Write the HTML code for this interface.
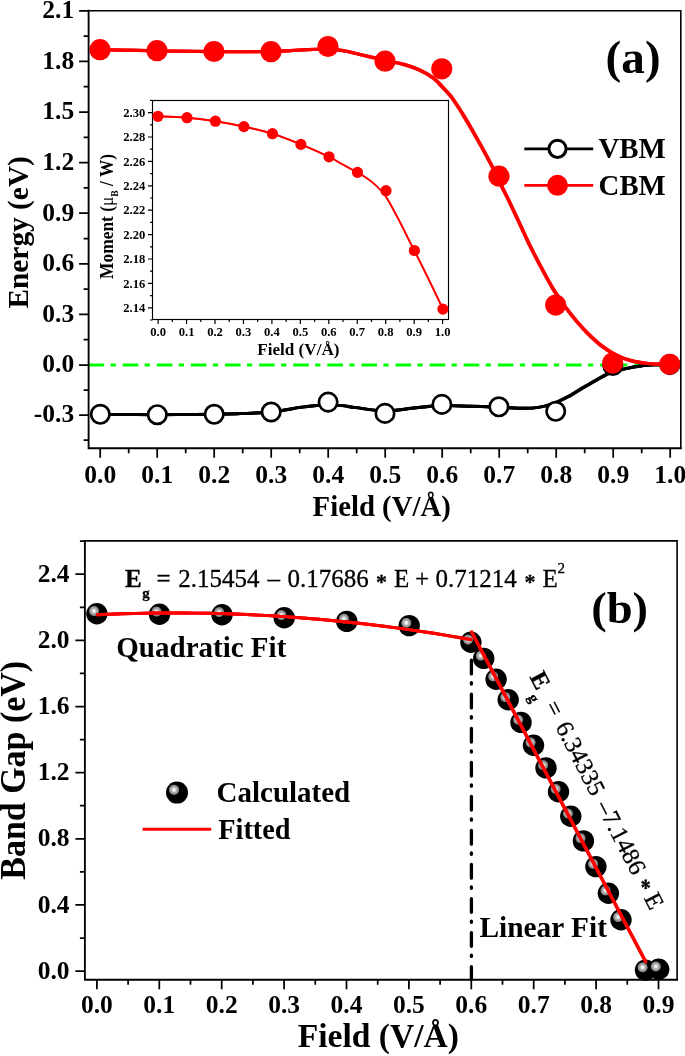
<!DOCTYPE html>
<html lang="en"><head><meta charset="utf-8"><title>Band edges and band gap versus electric field</title>
<style>
html,body{margin:0;padding:0;background:#fff;}
body{width:685px;height:1056px;overflow:hidden;}
svg{display:block;}
text{font-family:"Liberation Serif", "DejaVu Serif", serif;fill:#000;}
.b{font-weight:bold;}
.t24{font-size:25.5px;font-weight:bold;}
.t12{font-size:12.6px;font-weight:bold;}
.ax{stroke:#000;fill:none;}
.eq{stroke:#000;stroke-width:0.3px;}
</style></head><body>
<svg width="685" height="1056" viewBox="0 0 685 1056">
<defs>
<radialGradient id="sph" cx="0.365" cy="0.372" r="0.25" fx="0.365" fy="0.372"><stop offset="0" stop-color="#fff"/><stop offset="0.2" stop-color="#f0f0f0"/><stop offset="0.48" stop-color="#b4b4b4"/><stop offset="0.84" stop-color="#828282"/><stop offset="0.95" stop-color="#303030"/><stop offset="1" stop-color="#000"/></radialGradient>
</defs>
<rect x="0" y="0" width="685" height="1056" fill="#fff"/>
<g id="panel-a">
<line x1="88.6" y1="365.0" x2="679.8" y2="365.0" stroke="#00ff00" stroke-width="3.2" stroke-dasharray="15.6 6.4 5.2 6.9"/>
<g id="inset">
<rect x="152.5" y="100.5" width="296.0" height="219.0" fill="#fff" stroke="#000" stroke-width="1.15"/>
<path class="ax" stroke-width="1.2" d="M158.10,319.5 v4.5 M172.32,319.5 v2.5 M186.55,319.5 v4.5 M200.78,319.5 v2.5 M215.00,319.5 v4.5 M229.22,319.5 v2.5 M243.45,319.5 v4.5 M257.67,319.5 v2.5 M271.90,319.5 v4.5 M286.12,319.5 v2.5 M300.35,319.5 v4.5 M314.58,319.5 v2.5 M328.80,319.5 v4.5 M343.02,319.5 v2.5 M357.25,319.5 v4.5 M371.48,319.5 v2.5 M385.70,319.5 v4.5 M399.93,319.5 v2.5 M414.15,319.5 v4.5 M428.38,319.5 v2.5 M442.60,319.5 v4.5 M152.5,112.60 h-4.5 M152.5,137.00 h-4.5 M152.5,161.40 h-4.5 M152.5,185.80 h-4.5 M152.5,210.20 h-4.5 M152.5,234.60 h-4.5 M152.5,259.00 h-4.5 M152.5,283.40 h-4.5 M152.5,307.80 h-4.5 M152.5,100.40 h-2.5 M152.5,124.80 h-2.5 M152.5,149.20 h-2.5 M152.5,173.60 h-2.5 M152.5,198.00 h-2.5 M152.5,222.40 h-2.5 M152.5,246.80 h-2.5 M152.5,271.20 h-2.5 M152.5,295.60 h-2.5 M152.5,320.00 h-2.5"/>
<text class="t12" x="145.3" y="116.7" text-anchor="end">2.30</text>
<text class="t12" x="145.3" y="141.1" text-anchor="end">2.28</text>
<text class="t12" x="145.3" y="165.5" text-anchor="end">2.26</text>
<text class="t12" x="145.3" y="189.9" text-anchor="end">2.24</text>
<text class="t12" x="145.3" y="214.3" text-anchor="end">2.22</text>
<text class="t12" x="145.3" y="238.7" text-anchor="end">2.20</text>
<text class="t12" x="145.3" y="263.1" text-anchor="end">2.18</text>
<text class="t12" x="145.3" y="287.5" text-anchor="end">2.16</text>
<text class="t12" x="145.3" y="311.9" text-anchor="end">2.14</text>
<text class="t12" x="158.1" y="336.3" text-anchor="middle">0.0</text>
<text class="t12" x="186.6" y="336.3" text-anchor="middle">0.1</text>
<text class="t12" x="215.0" y="336.3" text-anchor="middle">0.2</text>
<text class="t12" x="243.4" y="336.3" text-anchor="middle">0.3</text>
<text class="t12" x="271.9" y="336.3" text-anchor="middle">0.4</text>
<text class="t12" x="300.4" y="336.3" text-anchor="middle">0.5</text>
<text class="t12" x="328.8" y="336.3" text-anchor="middle">0.6</text>
<text class="t12" x="357.2" y="336.3" text-anchor="middle">0.7</text>
<text class="t12" x="385.7" y="336.3" text-anchor="middle">0.8</text>
<text class="t12" x="414.1" y="336.3" text-anchor="middle">0.9</text>
<text class="t12" x="442.6" y="336.3" text-anchor="middle">1.0</text>
<text class="b" font-size="17" x="257.2" y="355.4" textLength="82.3" lengthAdjust="spacingAndGlyphs">Field (V/Å)</text>
<text class="b" font-size="18" transform="translate(112.8,278.9) rotate(-90)" textLength="125" lengthAdjust="spacingAndGlyphs">Moment (<tspan font-weight="normal">μ</tspan><tspan font-size="10" dy="5.5">B</tspan><tspan dy="-5.5"> / W)</tspan></text>
<g fill="none" stroke="#ff0000" stroke-width="0.65" stroke-linejoin="round" stroke-linecap="round"><path id="pn1" d="M158.00,116.30 C162.83,116.53 177.43,116.88 187.00,117.70 C196.57,118.52 205.92,119.72 215.40,121.20 C224.88,122.68 234.40,124.52 243.90,126.60 C253.40,128.68 262.90,130.73 272.40,133.70 C281.90,136.67 291.47,140.55 300.90,144.40 C310.33,148.25 322.48,153.70 329.00,156.80 C335.52,159.90 335.27,160.38 340.00,163.00 C344.73,165.62 352.83,169.90 357.40,172.50 C361.97,175.10 364.40,176.52 367.40,178.60 C370.40,180.68 372.98,182.85 375.40,185.00 C377.82,187.15 380.02,189.35 381.90,191.50 C383.78,193.65 384.83,194.95 386.70,197.90 C388.57,200.85 390.68,204.77 393.10,209.20 C395.52,213.63 398.78,219.80 401.20,224.50 C403.62,229.20 405.40,233.05 407.60,237.40 C409.80,241.75 410.90,243.63 414.40,250.60 C417.90,257.57 423.83,269.45 428.60,279.20 C433.37,288.95 440.60,304.12 443.00,309.10"/><use href="#pn1" x="-0.45" y="-0.45"/><use href="#pn1" x="-0.45" y="0.00"/><use href="#pn1" x="-0.45" y="0.45"/><use href="#pn1" x="0.00" y="-0.45"/><use href="#pn1" x="0.00" y="0.45"/><use href="#pn1" x="0.45" y="-0.45"/><use href="#pn1" x="0.45" y="0.00"/><use href="#pn1" x="0.45" y="0.45"/></g>
<circle cx="158.0" cy="116.3" r="5.6" fill="#ff0000"/>
<circle cx="187.0" cy="117.7" r="5.6" fill="#ff0000"/>
<circle cx="215.4" cy="121.2" r="5.6" fill="#ff0000"/>
<circle cx="243.9" cy="126.6" r="5.6" fill="#ff0000"/>
<circle cx="272.4" cy="133.7" r="5.6" fill="#ff0000"/>
<circle cx="300.9" cy="144.4" r="5.6" fill="#ff0000"/>
<circle cx="329.0" cy="156.8" r="5.6" fill="#ff0000"/>
<circle cx="357.5" cy="172.4" r="5.6" fill="#ff0000"/>
<circle cx="386.0" cy="190.7" r="5.6" fill="#ff0000"/>
<circle cx="414.4" cy="250.5" r="5.6" fill="#ff0000"/>
<circle cx="442.9" cy="309.1" r="5.6" fill="#ff0000"/>
</g>
<g fill="none" stroke="#000" stroke-width="1.05" stroke-linejoin="round" stroke-linecap="round"><path id="pn2" d="M100.30,414.40 C109.80,414.45 138.32,414.72 157.30,414.70 C176.28,414.68 200.42,414.48 214.20,414.30 C227.98,414.12 230.50,413.98 240.00,413.60 C249.50,413.22 261.20,413.03 271.20,412.00 C281.20,410.97 292.87,408.45 300.00,407.40 C307.13,406.35 309.32,406.12 314.00,405.70 C318.68,405.28 323.43,404.92 328.10,404.90 C332.77,404.88 337.35,405.15 342.00,405.60 C346.65,406.05 348.83,406.70 356.00,407.60 C363.17,408.50 375.67,410.90 385.00,411.00 C394.33,411.10 404.50,409.00 412.00,408.20 C419.50,407.40 425.00,406.67 430.00,406.20 C435.00,405.73 435.33,405.40 442.00,405.40 C448.67,405.40 460.50,405.90 470.00,406.20 C479.50,406.50 490.03,406.85 499.00,407.20 C507.97,407.55 517.23,408.27 523.80,408.30 C530.37,408.33 533.53,408.18 538.40,407.40 C543.27,406.62 548.13,405.35 553.00,403.60 C557.87,401.85 562.73,399.47 567.60,396.90 C572.47,394.33 577.33,391.05 582.20,388.20 C587.07,385.35 591.93,382.45 596.80,379.80 C601.67,377.15 606.53,374.17 611.40,372.30 C616.27,370.43 621.13,369.65 626.00,368.60 C630.87,367.55 635.73,366.63 640.60,366.00 C645.47,365.37 650.33,365.07 655.20,364.80 C660.07,364.53 667.37,364.47 669.80,364.40"/><use href="#pn2" x="-0.95" y="-0.95"/><use href="#pn2" x="-0.95" y="0.00"/><use href="#pn2" x="-0.95" y="0.95"/><use href="#pn2" x="0.00" y="-0.95"/><use href="#pn2" x="0.00" y="0.95"/><use href="#pn2" x="0.95" y="-0.95"/><use href="#pn2" x="0.95" y="0.00"/><use href="#pn2" x="0.95" y="0.95"/></g>
<circle cx="100.3" cy="414.3" r="9.2" fill="#fff" stroke="#000" stroke-width="2.7"/>
<circle cx="157.3" cy="414.7" r="9.2" fill="#fff" stroke="#000" stroke-width="2.7"/>
<circle cx="214.2" cy="414.3" r="9.2" fill="#fff" stroke="#000" stroke-width="2.7"/>
<circle cx="271.2" cy="412.0" r="9.2" fill="#fff" stroke="#000" stroke-width="2.7"/>
<circle cx="328.1" cy="402.1" r="9.2" fill="#fff" stroke="#000" stroke-width="2.7"/>
<circle cx="385.0" cy="413.4" r="9.2" fill="#fff" stroke="#000" stroke-width="2.7"/>
<circle cx="441.9" cy="404.4" r="9.2" fill="#fff" stroke="#000" stroke-width="2.7"/>
<circle cx="498.9" cy="406.8" r="9.2" fill="#fff" stroke="#000" stroke-width="2.7"/>
<circle cx="555.7" cy="411.3" r="9.2" fill="#fff" stroke="#000" stroke-width="2.7"/>
<circle cx="612.8" cy="365.5" r="9.2" fill="#fff" stroke="#000" stroke-width="2.7"/>
<circle cx="669.8" cy="364.6" r="9.2" fill="#fff" stroke="#000" stroke-width="2.7"/>
<g fill="none" stroke="#ff0000" stroke-width="1.10" stroke-linejoin="round" stroke-linecap="round"><path id="pn3" d="M100.00,49.70 C109.50,49.88 138.00,50.48 157.00,50.80 C176.00,51.12 195.00,51.48 214.00,51.60 C233.00,51.72 256.67,51.77 271.00,51.50 C285.33,51.23 290.50,50.42 300.00,50.00 C309.50,49.58 320.50,48.83 328.00,49.00 C335.50,49.17 339.67,50.08 345.00,51.00 C350.33,51.92 353.33,52.95 360.00,54.50 C366.67,56.05 377.70,58.65 385.00,60.30 C392.30,61.95 398.23,62.85 403.80,64.40 C409.37,65.95 413.53,67.37 418.40,69.60 C423.27,71.83 429.40,75.32 433.00,77.80 C436.60,80.28 436.93,81.30 440.00,84.50 C443.07,87.70 447.62,92.07 451.40,97.00 C455.18,101.93 458.92,108.03 462.70,114.10 C466.48,120.17 470.30,126.77 474.10,133.40 C477.90,140.03 482.10,147.65 485.50,153.90 C488.90,160.15 491.85,165.60 494.50,170.90 C497.15,176.20 499.12,180.97 501.40,185.70 C503.68,190.43 505.18,193.05 508.20,199.30 C511.22,205.55 515.80,215.32 519.50,223.20 C523.20,231.08 526.68,239.03 530.40,246.60 C534.12,254.17 538.00,261.52 541.80,268.60 C545.60,275.68 549.33,282.78 553.20,289.10 C557.07,295.42 561.13,301.18 565.00,306.50 C568.87,311.82 572.70,316.62 576.40,321.00 C580.10,325.38 582.97,328.63 587.20,332.80 C591.43,336.97 596.93,342.27 601.80,346.00 C606.67,349.73 611.53,352.77 616.40,355.20 C621.27,357.63 626.13,359.27 631.00,360.60 C635.87,361.93 640.73,362.60 645.60,363.20 C650.47,363.80 656.22,364.00 660.20,364.20 C664.18,364.40 667.95,364.37 669.50,364.40"/><use href="#pn3" x="-1.00" y="-1.00"/><use href="#pn3" x="-1.00" y="0.00"/><use href="#pn3" x="-1.00" y="1.00"/><use href="#pn3" x="0.00" y="-1.00"/><use href="#pn3" x="0.00" y="1.00"/><use href="#pn3" x="1.00" y="-1.00"/><use href="#pn3" x="1.00" y="0.00"/><use href="#pn3" x="1.00" y="1.00"/></g>
<circle cx="100.0" cy="49.7" r="10.6" fill="#ff0000"/>
<circle cx="157.0" cy="50.7" r="10.6" fill="#ff0000"/>
<circle cx="214.0" cy="51.5" r="10.6" fill="#ff0000"/>
<circle cx="271.0" cy="51.7" r="10.6" fill="#ff0000"/>
<circle cx="328.0" cy="46.5" r="10.6" fill="#ff0000"/>
<circle cx="385.1" cy="61.2" r="10.6" fill="#ff0000"/>
<circle cx="441.8" cy="68.8" r="10.6" fill="#ff0000"/>
<circle cx="499.0" cy="176.2" r="10.6" fill="#ff0000"/>
<circle cx="555.7" cy="305.1" r="10.6" fill="#ff0000"/>
<circle cx="612.7" cy="363.1" r="10.6" fill="#ff0000"/>
<circle cx="669.7" cy="364.3" r="10.6" fill="#ff0000"/>
<path class="ax" stroke-width="1.6" stroke-linecap="square" d="M88.6,10.7 H680.8 V448.2"/>
<path class="ax" stroke-width="1.85" stroke-linecap="square" d="M88.6,10.7 V448.2 H680.8"/>
<path class="ax" stroke-width="1.75" d="M100.20,448.2 v9.5 M128.70,448.2 v5 M157.20,448.2 v9.5 M185.70,448.2 v5 M214.20,448.2 v9.5 M242.70,448.2 v5 M271.20,448.2 v9.5 M299.70,448.2 v5 M328.20,448.2 v9.5 M356.70,448.2 v5 M385.20,448.2 v9.5 M413.70,448.2 v5 M442.20,448.2 v9.5 M470.70,448.2 v5 M499.20,448.2 v9.5 M527.70,448.2 v5 M556.20,448.2 v9.5 M584.70,448.2 v5 M613.20,448.2 v9.5 M641.70,448.2 v5 M670.20,448.2 v9.5 M88.6,415.00 h-9.5 M88.6,365.00 h-9.5 M88.6,314.40 h-9.5 M88.6,263.80 h-9.5 M88.6,213.20 h-9.5 M88.6,162.60 h-9.5 M88.6,112.00 h-9.5 M88.6,61.40 h-9.5 M88.6,10.80 h-9.5 M88.6,440.00 h-5 M88.6,390.00 h-5 M88.6,339.70 h-5 M88.6,289.10 h-5 M88.6,238.50 h-5 M88.6,187.90 h-5 M88.6,137.30 h-5 M88.6,86.70 h-5 M88.6,36.10 h-5"/>
<text class="t24" x="74.2" y="422.4" text-anchor="end">-0.3</text>
<text class="t24" x="74.2" y="372.4" text-anchor="end">0.0</text>
<text class="t24" x="74.2" y="321.8" text-anchor="end">0.3</text>
<text class="t24" x="74.2" y="271.2" text-anchor="end">0.6</text>
<text class="t24" x="74.2" y="220.6" text-anchor="end">0.9</text>
<text class="t24" x="74.2" y="170.0" text-anchor="end">1.2</text>
<text class="t24" x="74.2" y="119.4" text-anchor="end">1.5</text>
<text class="t24" x="74.2" y="68.8" text-anchor="end">1.8</text>
<text class="t24" x="74.2" y="18.2" text-anchor="end">2.1</text>
<text class="t24" x="100.2" y="483" text-anchor="middle">0.0</text>
<text class="t24" x="157.2" y="483" text-anchor="middle">0.1</text>
<text class="t24" x="214.2" y="483" text-anchor="middle">0.2</text>
<text class="t24" x="271.2" y="483" text-anchor="middle">0.3</text>
<text class="t24" x="328.2" y="483" text-anchor="middle">0.4</text>
<text class="t24" x="385.2" y="483" text-anchor="middle">0.5</text>
<text class="t24" x="442.2" y="483" text-anchor="middle">0.6</text>
<text class="t24" x="499.2" y="483" text-anchor="middle">0.7</text>
<text class="t24" x="556.2" y="483" text-anchor="middle">0.8</text>
<text class="t24" x="613.2" y="483" text-anchor="middle">0.9</text>
<text class="t24" x="670.2" y="483" text-anchor="middle">1.0</text>
<text class="b" font-size="30" x="312.6" y="516.4" textLength="138.2" lengthAdjust="spacingAndGlyphs">Field (V/Å)</text>
<text class="b" font-size="30" transform="translate(27.9,308.6) rotate(-90)" textLength="152.5" lengthAdjust="spacingAndGlyphs">Energy (eV)</text>
<text class="b" font-size="46.5" x="605.6" y="72.7" textLength="55" lengthAdjust="spacingAndGlyphs">(a)</text>
<line x1="524.3" y1="148.8" x2="593.2" y2="148.8" stroke="#000" stroke-width="2.8"/>
<circle cx="557.5" cy="148.8" r="8.6" fill="#fff" stroke="#000" stroke-width="3"/>
<text class="b" font-size="29" x="598.4" y="158.1" textLength="67.4" lengthAdjust="spacingAndGlyphs">VBM</text>
<line x1="524.3" y1="185.3" x2="593.2" y2="185.3" stroke="#ff0000" stroke-width="2.8"/>
<circle cx="557.5" cy="185.3" r="10.5" fill="#ff0000"/>
<text class="b" font-size="29" x="598.6" y="194.8" textLength="67.2" lengthAdjust="spacingAndGlyphs">CBM</text>
</g>
<g id="panel-b">
<line x1="471.4" y1="660.2" x2="471.4" y2="979.7" stroke="#000" stroke-width="3.3" stroke-linecap="round" stroke-dasharray="13.7 8.8 1.3 10.25"/>
<circle cx="96.9" cy="613.7" r="10.7" fill="url(#sph)"/>
<circle cx="159.5" cy="614.3" r="10.7" fill="url(#sph)"/>
<circle cx="222.0" cy="614.8" r="10.7" fill="url(#sph)"/>
<circle cx="284.2" cy="617.8" r="10.7" fill="url(#sph)"/>
<circle cx="346.8" cy="621.4" r="10.7" fill="url(#sph)"/>
<circle cx="409.2" cy="625.6" r="10.7" fill="url(#sph)"/>
<circle cx="470.9" cy="642.3" r="10.7" fill="url(#sph)"/>
<circle cx="483.7" cy="658.4" r="10.7" fill="url(#sph)"/>
<circle cx="496.1" cy="679.2" r="10.7" fill="url(#sph)"/>
<circle cx="508.2" cy="699.8" r="10.7" fill="url(#sph)"/>
<circle cx="521.0" cy="722.4" r="10.7" fill="url(#sph)"/>
<circle cx="533.5" cy="745.2" r="10.7" fill="url(#sph)"/>
<circle cx="546.0" cy="767.9" r="10.7" fill="url(#sph)"/>
<circle cx="558.5" cy="791.7" r="10.7" fill="url(#sph)"/>
<circle cx="570.8" cy="816.2" r="10.7" fill="url(#sph)"/>
<circle cx="583.4" cy="840.9" r="10.7" fill="url(#sph)"/>
<circle cx="595.9" cy="866.6" r="10.7" fill="url(#sph)"/>
<circle cx="608.4" cy="893.2" r="10.7" fill="url(#sph)"/>
<circle cx="621.0" cy="919.8" r="10.7" fill="url(#sph)"/>
<circle cx="645.5" cy="970.1" r="10.7" fill="url(#sph)"/>
<circle cx="658.7" cy="969.2" r="10.7" fill="url(#sph)"/>
<g fill="none" stroke="#ff0000" stroke-width="1.05" stroke-linejoin="round" stroke-linecap="butt"><path id="pn4" d="M96.90,614.79 L109.38,614.26 L121.86,613.81 L134.34,613.46 L146.82,613.21 L159.30,613.05 L171.78,612.98 L184.26,613.01 L196.74,613.13 L209.22,613.34 L221.70,613.65 L234.18,614.06 L246.66,614.56 L259.14,615.15 L271.62,615.84 L284.10,616.62 L296.58,617.49 L309.06,618.46 L321.54,619.53 L334.02,620.68 L346.50,621.94 L358.98,623.28 L371.46,624.72 L383.94,626.26 L396.42,627.89 L408.90,629.61 L421.38,631.43 L433.86,633.34 L446.34,635.35 L458.82,637.45 L471.30,639.64"/><use href="#pn4" x="-0.95" y="-0.95"/><use href="#pn4" x="-0.95" y="0.00"/><use href="#pn4" x="-0.95" y="0.95"/><use href="#pn4" x="0.00" y="-0.95"/><use href="#pn4" x="0.00" y="0.95"/><use href="#pn4" x="0.95" y="-0.95"/><use href="#pn4" x="0.95" y="0.00"/><use href="#pn4" x="0.95" y="0.95"/></g>
<g fill="none" stroke="#ff0000" stroke-width="1.05" stroke-linejoin="round" stroke-linecap="butt"><path id="pn5" d="M471.30,631.39 L646.02,962.40"/><use href="#pn5" x="-0.95" y="-0.95"/><use href="#pn5" x="-0.95" y="0.00"/><use href="#pn5" x="-0.95" y="0.95"/><use href="#pn5" x="0.00" y="-0.95"/><use href="#pn5" x="0.00" y="0.95"/><use href="#pn5" x="0.95" y="-0.95"/><use href="#pn5" x="0.95" y="0.00"/><use href="#pn5" x="0.95" y="0.95"/></g>
<path class="ax" stroke-width="1.6" stroke-linecap="square" d="M84.9,540.9 H677.1 V979.7"/>
<path class="ax" stroke-width="1.85" stroke-linecap="square" d="M84.9,540.9 V979.7 H677.1"/>
<path class="ax" stroke-width="1.75" d="M96.90,979.7 v9.5 M128.10,979.7 v5 M159.30,979.7 v9.5 M190.50,979.7 v5 M221.70,979.7 v9.5 M252.90,979.7 v5 M284.10,979.7 v9.5 M315.30,979.7 v5 M346.50,979.7 v9.5 M377.70,979.7 v5 M408.90,979.7 v9.5 M440.10,979.7 v5 M471.30,979.7 v9.5 M502.50,979.7 v5 M533.70,979.7 v9.5 M564.90,979.7 v5 M596.10,979.7 v9.5 M627.30,979.7 v5 M658.50,979.7 v9.5 M84.9,971.10 h-9.5 M84.9,904.95 h-9.5 M84.9,838.80 h-9.5 M84.9,772.65 h-9.5 M84.9,706.50 h-9.5 M84.9,640.35 h-9.5 M84.9,574.20 h-9.5 M84.9,938.02 h-5 M84.9,871.88 h-5 M84.9,805.73 h-5 M84.9,739.58 h-5 M84.9,673.42 h-5 M84.9,607.27 h-5 M84.9,541.12 h-5"/>
<text class="t24" x="69.6" y="978.7" text-anchor="end">0.0</text>
<text class="t24" x="69.6" y="912.6" text-anchor="end">0.4</text>
<text class="t24" x="69.6" y="846.4" text-anchor="end">0.8</text>
<text class="t24" x="69.6" y="780.2" text-anchor="end">1.2</text>
<text class="t24" x="69.6" y="714.1" text-anchor="end">1.6</text>
<text class="t24" x="69.6" y="648.0" text-anchor="end">2.0</text>
<text class="t24" x="69.6" y="581.8" text-anchor="end">2.4</text>
<text class="t24" x="96.9" y="1012.6" text-anchor="middle">0.0</text>
<text class="t24" x="159.3" y="1012.6" text-anchor="middle">0.1</text>
<text class="t24" x="221.7" y="1012.6" text-anchor="middle">0.2</text>
<text class="t24" x="284.1" y="1012.6" text-anchor="middle">0.3</text>
<text class="t24" x="346.5" y="1012.6" text-anchor="middle">0.4</text>
<text class="t24" x="408.9" y="1012.6" text-anchor="middle">0.5</text>
<text class="t24" x="471.3" y="1012.6" text-anchor="middle">0.6</text>
<text class="t24" x="533.7" y="1012.6" text-anchor="middle">0.7</text>
<text class="t24" x="596.1" y="1012.6" text-anchor="middle">0.8</text>
<text class="t24" x="658.5" y="1012.6" text-anchor="middle">0.9</text>
<text class="b" font-size="34.5" x="297.8" y="1047.4" textLength="161.2" lengthAdjust="spacingAndGlyphs">Field (V/Å)</text>
<text class="b" font-size="35" transform="translate(24.6,879.7) rotate(-90)" textLength="218.8" lengthAdjust="spacingAndGlyphs">Band Gap (eV)</text>
<text class="b" font-size="45" x="591.2" y="623.2" textLength="56.8" lengthAdjust="spacingAndGlyphs">(b)</text>
<text class="b" font-size="29.5" x="116.3" y="657.2" textLength="170" lengthAdjust="spacingAndGlyphs">Quadratic Fit</text>
<text class="b" font-size="29.5" x="479.4" y="936.5" textLength="127.6" lengthAdjust="spacingAndGlyphs">Linear Fit</text>
<circle cx="177.0" cy="792.6" r="11.0" fill="url(#sph)"/>
<text class="b" font-size="29.5" x="216.6" y="802" textLength="133.6" lengthAdjust="spacingAndGlyphs">Calculated</text>
<line x1="142.6" y1="829.2" x2="211.2" y2="829.2" stroke="#ff0000" stroke-width="3"/>
<text class="b" font-size="29.5" x="218.3" y="838.5" textLength="72.3" lengthAdjust="spacingAndGlyphs">Fitted</text>
<text class="eq" font-size="25" y="586.9"><tspan class="b" x="125.0">E</tspan><tspan class="b" font-size="15" x="142.3" dy="10.8">g</tspan><tspan x="156.4" dy="-10.8">=</tspan><tspan x="178.3">2.15454</tspan><tspan x="267.6">–</tspan><tspan x="287.4">0.17686</tspan><tspan class="b" x="375.9" font-size="22" dy="2.0">*</tspan><tspan x="394" dy="-2.0">E</tspan><tspan x="414.9">+</tspan><tspan x="435.4">0.71214</tspan><tspan class="b" x="524.6" font-size="22" dy="2.0">*</tspan><tspan x="542.6" dy="-2.0">E</tspan><tspan x="557.6" font-size="15" dy="-13.8">2</tspan></text>
<text class="eq" font-size="24.5" transform="translate(529.3,676.8) rotate(62.7)"><tspan class="b" x="0" y="0">E</tspan><tspan class="b" font-size="15" x="17.2" dy="10.5">g</tspan><tspan x="32.7" dy="-10.5">=</tspan><tspan x="56.2">6.34335</tspan><tspan x="145">–</tspan><tspan x="157.2">7.1486</tspan><tspan class="b" x="232.4" font-size="22" dy="2.0">*</tspan><tspan x="249" dy="-2.0">E</tspan></text>
</g>
</svg>
</body></html>
